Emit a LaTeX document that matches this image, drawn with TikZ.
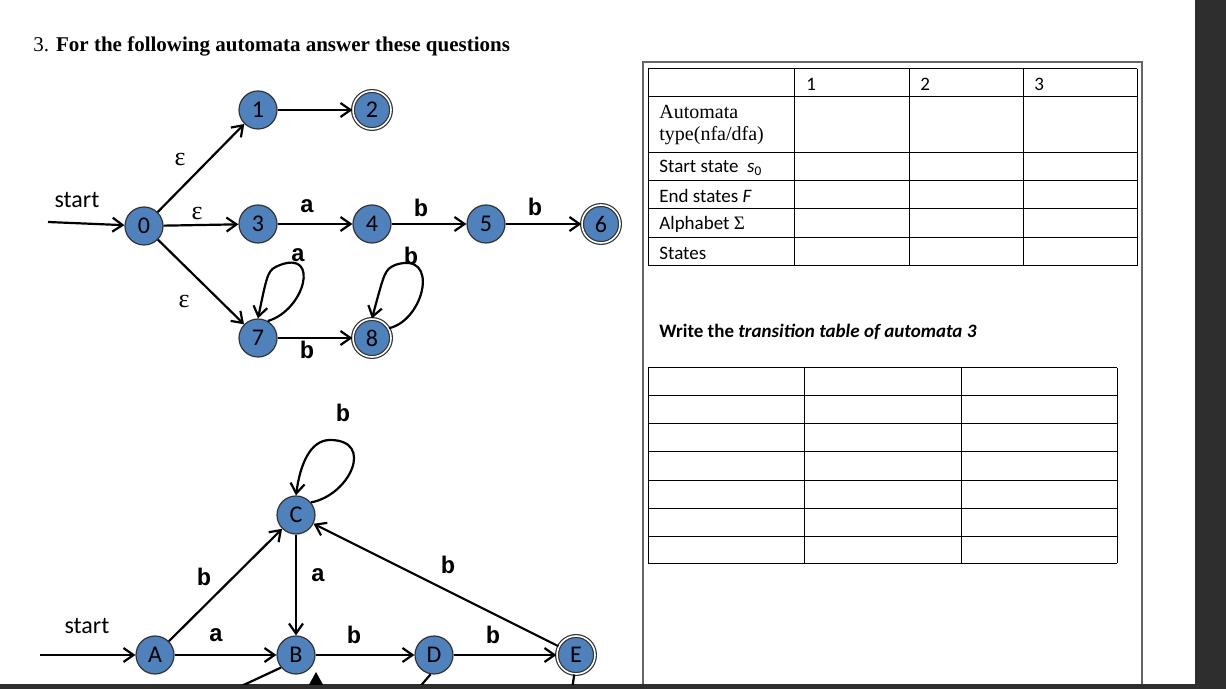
\documentclass[tikz,border=0pt]{standalone}
\usepackage{fontspec}
\setmainfont{Liberation Serif}
\newfontfamily\carl{Carlito}
\newfontfamily\monof{Liberation Mono}
\usetikzlibrary{arrows.meta}
\begin{document}
\begin{tikzpicture}[x=0.5pt,y=-0.5pt,
  st/.style={circle,draw=black!80,fill={rgb,255:red,79;green,129;blue,189},line width=0.6pt,minimum size=19pt,inner sep=0pt,font=\carl\fontsize{12}{12}\selectfont},
  acc/.style={st,double=white,double distance=0.8pt},
  ed/.style={line width=1.1pt,-{Straight Barb[length=5pt,width=7pt,line width=1.1pt]}},
  lb/.style={font=\monof\bfseries\fontsize{12}{12}\selectfont},
  ep/.style={font=\fontsize{13}{13}\selectfont},
  sl/.style={font=\carl\fontsize{12}{12}\selectfont},
  cell/.style={font=\carl\fontsize{9.5}{10}\selectfont,anchor=west,inner sep=0pt}]
\useasboundingbox (0,0) rectangle (1226,689);
\fill[white] (0,0) rectangle (1226,689);
\fill[black!82] (1195,0) rectangle (1226,689);
\fill[black!82] (0,684) rectangle (1226,689);
\node[anchor=base west,inner sep=0pt,font=\fontsize{10.5}{12}\selectfont] (title) at (33,52) {3. \textbf{For the following automata answer these questions}};
% page
\draw[black!60,line width=0.6pt] (643,684) -- (643,62) -- (1142,62) -- (1142,684);
% table 1
\foreach \x in {648,794,909,1023,1137} \draw[line width=0.5pt] (\x,69) -- (\x,266);
\foreach \y in {69,97,153,181,209,238,266} \draw[line width=0.5pt] (648,\y) -- (1137,\y);
\node[cell] (h1) at (806,84) {1};
\node[cell] (h2) at (920,84) {2};
\node[cell] (h3) at (1034,84) {3};
\node[cell,font=\fontsize{10}{11}\selectfont,align=left] (r1) at (659,125) {Automata\\type(nfa/dfa)};
\node[cell] (r2) at (659,168) {Start state \ \textit{s}\textsubscript{0}};
\node[cell] (r3) at (659,196) {End states \textit{F}};
\node[cell] (r4) at (659,224) {Alphabet {\fontspec{Liberation Serif}Σ}};
\node[cell] (r5) at (659,253) {States};
\node[cell,font=\carl\bfseries\fontsize{9.5}{10}\selectfont] (wt) at (659,332) {Write the \textit{transition table of automata 3}};
% table 2
\foreach \x in {648,804,961,1117} \draw[line width=0.5pt] (\x,368) -- (\x,563);
\foreach \y in {368,396,424,452,480,508,536,563} \draw[line width=0.5pt] (648,\y) -- (1117,\y);
% automaton 1
\node[st] (n0) at (144,226) {0};
\node[st] (n1) at (258,110) {1};
\node[acc] (n2) at (372,110) {2};
\node[st] (n3) at (258,224) {3};
\node[st] (n4) at (372,224) {4};
\node[st] (n5) at (486,224) {5};
\node[acc] (n6) at (601,224) {6};
\node[st] (n7) at (258,338) {7};
\node[acc] (n8) at (372,338) {8};
\coordinate (s1) at (48,222);
\node[sl] (st1) at (77,200) {start};
\draw[ed] (s1) -- (n0);
\draw[ed] (n0) -- (n1);
\draw[ed] (n1) -- (n2);
\draw[ed] (n0) -- (n3);
\draw[ed] (n3) -- (n4);
\draw[ed] (n4) -- (n5);
\draw[ed] (n5) -- (n6);
\draw[ed] (n0) -- (n7);
\draw[ed] (n7) -- (n8);
\draw[ed] (n7.60) .. controls (305,310) and (320,250) .. (280,265) .. controls (268,270) .. (n7.north);
\draw[ed] (n8.30) .. controls (425,320) and (440,250) .. (395,265) .. controls (385,270) .. (n8.north);
\node[ep] (e1) at (180,160) {ε};
\node[ep] (e2) at (197,214) {ε};
\node[ep] (e3) at (184,302) {ε};
\node[lb] (l1) at (307,206) {a};
\node[lb] (l2) at (421,208) {b};
\node[lb] (l3) at (535,207) {b};
\node[lb] (l4) at (298,255) {a};
\node[lb] (l5) at (411,256) {b};
\node[lb] (l6) at (307,350) {b};
% automaton 2
\node[st] (C) at (296,515) {C};
\node[st] (A) at (155,655) {A};
\node[st] (B) at (296,655) {B};
\node[st] (D) at (434,655) {D};
\node[acc] (E) at (576,655) {E};
\coordinate (s2) at (40,655);
\node[sl] (st2) at (87,626) {start};
\draw[ed] (s2) -- (A);
\draw[ed] (A) -- (B);
\draw[ed] (A) -- (C);
\draw[ed] (C) -- (B);
\draw[ed] (B) -- (D);
\draw[ed] (D) -- (E);
\draw[ed] (E) -- (C);
\draw[ed] (C.40) .. controls (350,495) and (375,440) .. (330,440) .. controls (310,440) and (300,465) .. (C.north);
\node[lb] (m1) at (343,413) {b};
\node[lb] (m2) at (204,577) {b};
\node[lb] (m3) at (318,575) {a};
\node[lb] (m4) at (216,635) {a};
\node[lb] (m5) at (354,635) {b};
\node[lb] (m6) at (493,635) {b};
\node[lb] (m7) at (448,565) {b};
% cut-off fragments
\begin{scope}
\clip (0,0) rectangle (1226,684);
\draw[line width=1.1pt] (B.220) -- (235,689);
\draw[line width=1.1pt] (D.260) -- (418,689);
\draw[line width=1.1pt] (E.265) -- (572,689);
\fill (316,672) -- (306,690) -- (326,690) -- cycle;
\end{scope}
\end{tikzpicture}
\end{document}
